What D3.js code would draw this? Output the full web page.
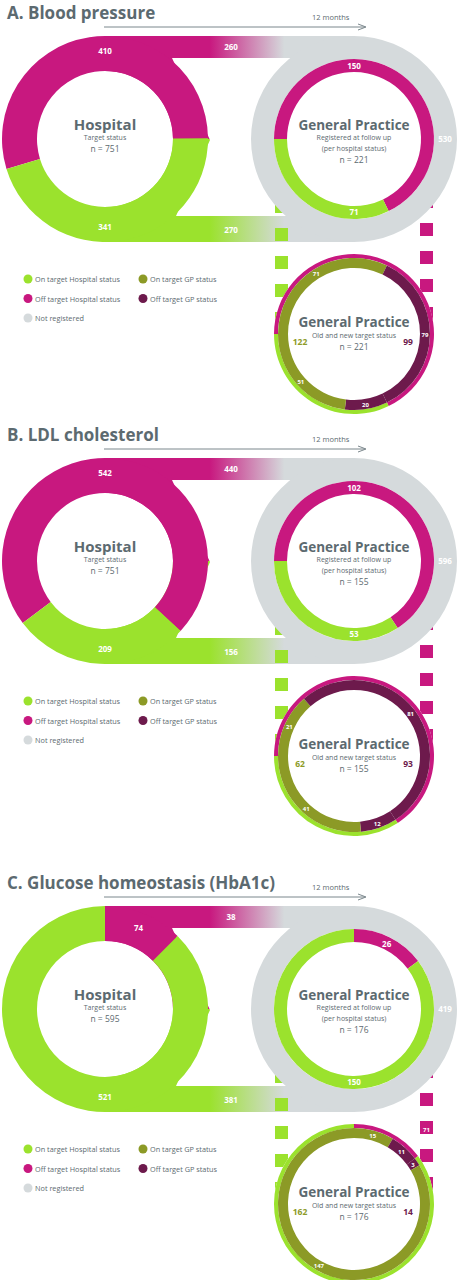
<!DOCTYPE html>
<html><head><meta charset="utf-8">
<script src="https://cdn.jsdelivr.net/npm/d3@7"></script>
<style>body{margin:0;background:#fff}</style>
</head><body><svg id="chart"></svg>
<script>
const titles = ["A. Blood pressure", "B. LDL cholesterol", "C. Glucose homeostasis (HbA1c)"];
const hospOn = [341, 209, 521];
const hospOff = [410, 542, 74];
const hospN = [751, 751, 595];
const flowOn = [270, 156, 381];
const flowOff = [260, 440, 38];
const gpOn = [71, 53, 150];
const gpOff = [150, 102, 26];
const gpN = [221, 155, 176];
const notReg = [530, 596, 419];
const offToOnGP = [71, 21, 15];
const offToOffGP = [79, 81, 11];
const onToOffGP = [20, 12, 3];
const onToOnGP = [51, 41, 147];
const totalOnGP = [122, 62, 162];
const totalOffGP = [99, 93, 14];
const hospOffStart = [-107, -127, 0];   // degrees, where the off-target arc begins
const gpOffStart = [-90, -90, 0];
const legendItems = [["On target Hospital status", "#9be22d"], ["Off target Hospital status", "#c8187f"], ["Not registered", "#d5dadc"],
                     ["On target GP status", "#8c9a26"], ["Off target GP status", "#6d1a4c"]];

const C = {green: "#9be22d", pink: "#c8187f", grey: "#d5dadc", olive: "#8c9a26", purple: "#6d1a4c", text: "#5c6a70"};
const W = 458, H = 1280;
const svg = d3.select("#chart").attr("width", W).attr("height", H).style("font-family", "'Open Sans', sans-serif");
const defs = svg.append("defs");
const offsets = [0, 422, 870];
const rad = d => d * Math.PI / 180;
const hx = 105, gx = 354, cy = 139, ly = 334;

offsets.forEach((oy, i) => {
  const g = svg.append("g").attr("transform", `translate(0,${oy})`);
  g.append("text").attr("x", 7).attr("y", 19).attr("fill", C.text).attr("font-size", 17).attr("font-weight", 700).text(titles[i]);
  g.append("text").attr("x", 312).attr("y", 20).attr("fill", C.text).attr("font-size", 7.5).text("12  months");
  g.append("line").attr("x1", 104).attr("x2", 364).attr("y1", 27).attr("y2", 27).attr("stroke", "#7b878c").attr("stroke-width", 1);
  g.append("path").attr("d", "M358,24 L366,27 L358,30").attr("fill", "none").attr("stroke", "#7b878c");

  // gradients for flow bands
  [["top", C.pink], ["bot", C.green]].forEach(([k, col]) => {
    const gr = defs.append("linearGradient").attr("id", `g${k}${i}`).attr("gradientUnits", "userSpaceOnUse")
      .attr("x1", hx).attr("x2", gx).attr("y1", 0).attr("y2", 0);
    gr.append("stop").attr("offset", 0.42).attr("stop-color", col);
    gr.append("stop").attr("offset", 0.72).attr("stop-color", C.grey);
  });
  g.append("rect").attr("x", hx).attr("y", cy - 103).attr("width", gx - hx).attr("height", 103).attr("fill", `url(#gtop${i})`);
  g.append("rect").attr("x", hx).attr("y", cy).attr("width", gx - hx).attr("height", 103).attr("fill", `url(#gbot${i})`);
  g.append("polygon").attr("points", "172,58 310,58 310,216 176,216 210,140").attr("fill", "#fff");

  // dashed links down to lower ring
  g.append("line").attr("x1", 281.5).attr("x2", 281.5).attr("y1", 172).attr("y2", 330).attr("stroke", C.green).attr("stroke-width", 13).attr("stroke-dasharray", "13,15");
  g.append("line").attr("x1", 426.5).attr("x2", 426.5).attr("y1", 167).attr("y2", 322).attr("stroke", C.pink).attr("stroke-width", 13).attr("stroke-dasharray", "13,15");

  // grey not-registered ring
  g.append("path").attr("transform", `translate(${gx},${cy})`).attr("fill", C.grey)
    .attr("d", d3.arc()({innerRadius: 80, outerRadius: 103, startAngle: 0, endAngle: 2 * Math.PI}));
  g.append("circle").attr("cx", gx).attr("cy", cy).attr("r", 80).attr("fill", "#fff");
  g.append("text").attr("x", gx + 91).attr("y", cy + 3).attr("text-anchor", "middle").attr("fill", "#fff").attr("font-size", 8).attr("font-weight", 700).text(notReg[i]);

  // generic two-part ring
  function ring(cx, cyy, r0, r1, off, on, startDeg, labelR, fs) {
    const a = d3.scaleLinear().domain([0, off + on]).range([rad(startDeg), rad(startDeg) + 2 * Math.PI]);
    const arc = d3.arc().innerRadius(r0).outerRadius(r1);
    const rg = g.append("g").attr("transform", `translate(${cx},${cyy})`);
    rg.append("circle").attr("r", r0).attr("fill", "#fff");
    rg.append("path").attr("fill", C.pink).attr("d", arc({startAngle: a(0), endAngle: a(off)}));
    rg.append("path").attr("fill", C.green).attr("d", arc({startAngle: a(off), endAngle: a(off + on)}));
    if (labelR) {
      const offMid = (a(off) - a(0)) < Math.PI ? (a(0) + a(off)) / 2 : 0;
      [[offMid, off], [Math.PI, on]].forEach(([ang, v]) => {
        rg.append("text").attr("x", labelR * Math.sin(ang)).attr("y", -labelR * Math.cos(ang) + 3)
          .attr("text-anchor", "middle").attr("fill", "#fff").attr("font-size", fs).attr("font-weight", 700).text(v);
      });
    }
    return a;
  }
  ring(hx, cy, 68, 103, hospOff[i], hospOn[i], hospOffStart[i], 88, 8);
  ring(gx, cy, 67, 80, gpOff[i], gpOn[i], gpOffStart[i], 73, 8);

  g.append("text").attr("x", 231).attr("y", 50).attr("text-anchor", "middle").attr("fill", "#fff").attr("font-size", 8).attr("font-weight", 700).text(flowOff[i]);
  g.append("text").attr("x", 231).attr("y", 233).attr("text-anchor", "middle").attr("fill", "#fff").attr("font-size", 8).attr("font-weight", 700).text(flowOn[i]);
  if (i === 2) {
    g.append("text").attr("x", 426.5).attr("y", 262).attr("text-anchor", "middle").attr("fill", "#fff").attr("font-size", 6).attr("font-weight", 700).text(71);
  }

  // lower ring: hospital rim + GP segments
  g.append("circle").attr("cx", gx).attr("cy", ly).attr("r", 80).attr("fill", "#fff");
  const a = ring(gx, ly, 76, 80, gpOff[i], gpOn[i], gpOffStart[i], 0, 0);
  const segs = [[offToOnGP[i], C.olive], [offToOffGP[i], C.purple], [onToOffGP[i], C.purple], [onToOnGP[i], C.olive]];
  const arc = d3.arc().innerRadius(66).outerRadius(76);
  const lg = g.append("g").attr("transform", `translate(${gx},${ly})`);
  let acc = 0;
  segs.forEach(([v, col]) => {
    const s = a(acc), e = a(acc + v);
    lg.append("path").attr("fill", col).attr("d", arc({startAngle: s, endAngle: e}));
    const m = (s + e) / 2;
    lg.append("text").attr("x", 71 * Math.sin(m)).attr("y", -71 * Math.cos(m) + 2.5).attr("text-anchor", "middle")
      .attr("fill", "#fff").attr("font-size", 6).attr("font-weight", 700).text(v);
    acc += v;
  });
  lg.append("text").attr("x", -54).attr("y", 11).attr("text-anchor", "middle").attr("fill", C.olive).attr("font-size", 8.5).attr("font-weight", 700).text(totalOnGP[i]);
  lg.append("text").attr("x", 54).attr("y", 11).attr("text-anchor", "middle").attr("fill", C.purple).attr("font-size", 8.5).attr("font-weight", 700).text(totalOffGP[i]);

  // centre texts
  function centre(x, y, lines) {
    lines.forEach(([t, dy, fs, bold]) => g.append("text").attr("x", x).attr("y", y + dy).attr("text-anchor", "middle")
      .attr("fill", C.text).attr("font-size", fs).attr("font-weight", bold ? 700 : 400).text(t));
  }
  centre(hx, cy, [["Hospital", -9, 15, true], ["Target status", 1, 7, false], ["n = " + hospN[i], 13, 8.5, false]]);
  centre(gx, cy, [["General Practice", -9, 13.5, true], ["Registered at follow up", 1, 7, false], ["(per hospital status)", 12, 7, false], ["n = " + gpN[i], 24, 8.5, false]]);
  centre(gx, ly, [["General Practice", -7, 13.5, true], ["Old and new target status", 4, 7, false], ["n = " + gpN[i], 16, 8.5, false]]);

  // legend
  legendItems.forEach(([t, col], k) => {
    const x = k < 3 ? 28 : 143, y = 279 + (k % 3) * 19.5;
    g.append("circle").attr("cx", x).attr("cy", y).attr("r", 4.5).attr("fill", col);
    g.append("text").attr("x", x + 7).attr("y", y + 3).attr("fill", C.text).attr("font-size", 7.3).text(t);
  });
});
</script></body></html>
